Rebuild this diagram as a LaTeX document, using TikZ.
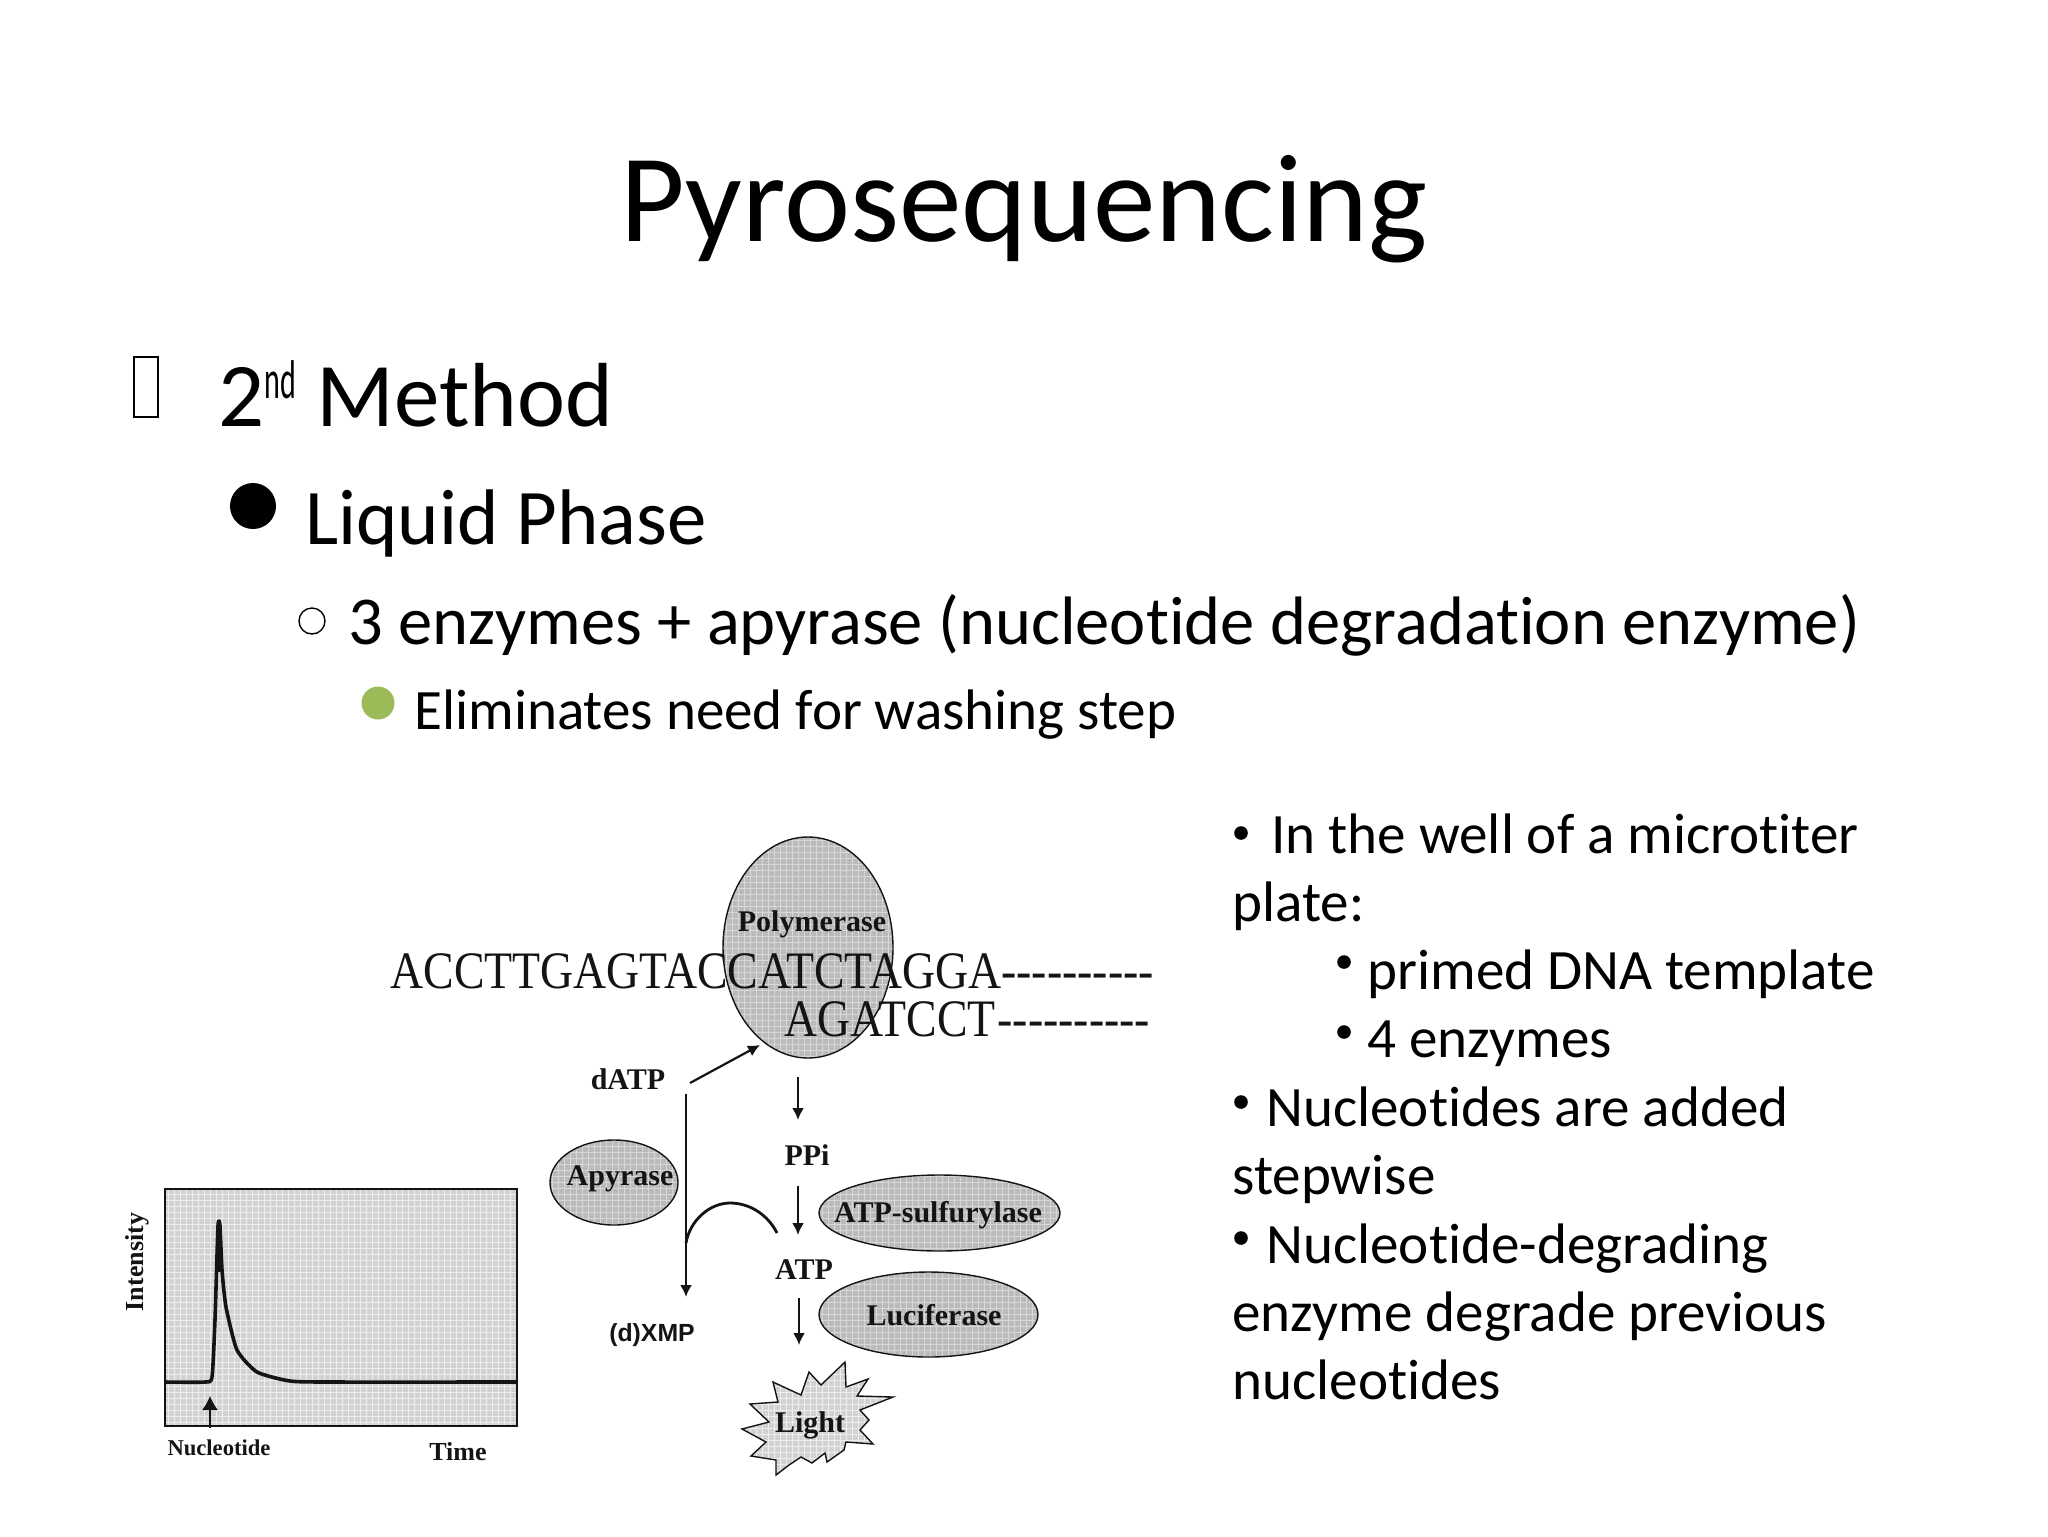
\documentclass[tikz,border=0pt]{standalone}
\usepackage{fontspec}
\setmainfont[RawFeature={-liga;-clig;-calt;-dlig}]{Carlito}
\newfontfamily\figserif{Liberation Serif}
\newfontfamily\figsans{Liberation Sans}
\usetikzlibrary{arrows.meta,shapes.geometric,patterns.meta}
\definecolor{slideink}{HTML}{000000}
\definecolor{figink}{HTML}{141414}
\definecolor{figfill}{HTML}{BABABA}
\definecolor{figmesh}{HTML}{D8D8D8}
\definecolor{plotfill}{HTML}{D2D2D2}
\definecolor{plotmesh}{HTML}{EEEEEE}
\definecolor{slidegreen}{HTML}{9BBB59}
\tikzset{
  slidetext/.style={anchor=base west,inner sep=0pt,text=slideink},
  bulletdot/.style={circle,fill=slideink,inner sep=0pt},
  meshfill/.style 2 args={preaction={fill=#1},
    preaction={pattern={Lines[angle=0,distance=3pt,line width=0.3pt]},pattern color=#2},
    preaction={pattern={Lines[angle=90,distance=3pt,line width=0.3pt]},pattern color=#2}},
  enzymeshape/.style={ellipse,draw=figink,line width=0.7pt,inner sep=0pt,meshfill={figfill}{figmesh}},
  figlabel/.style={inner sep=0pt,text=figink,font=\figserif\fontsize{15}{15}\selectfont\bfseries},
  dnatext/.style={anchor=base west,inner sep=0pt,text=figink,yscale=1.15,transform shape,
    font=\figserif\fontsize{22.9}{22.9}\selectfont},
  flowarrow/.style={draw=figink,line width=1.1pt,-{Latex[length=6pt,width=6pt]}},
}
\begin{document}
\begin{tikzpicture}[x=0.5pt,y=-0.5pt]
  \useasboundingbox (0,0) rectangle (2048,1536);
  \node[inner sep=0pt,text=slideink,font=\fontsize{62.6}{62.6}\selectfont,anchor=base] (title) at (1024,241) {Pyrosequencing};
  % bullet list
  \node[draw=slideink,line width=0.6pt,inner sep=0pt,minimum width=12pt,minimum height=30pt] (missing) at (146,387) {};
  \node[slidetext,font=\fontsize{45.5}{45.5}\selectfont] (method) at (218,426) {2\raisebox{14pt}{\scalebox{0.33}[0.6]{nd}} Method};
  \node[bulletdot,minimum size=23pt] (dotone) at (253,506) {};
  \node[slidetext,font=\fontsize{39.4}{39.4}\selectfont] (liquid) at (305,544) {Liquid Phase};
  \node[circle,draw=slideink,line width=0.7pt,inner sep=0pt,minimum size=13pt] (dottwo) at (312,621) {};
  \node[slidetext,font=\fontsize{34.27}{34.27}\selectfont] (apyrase) at (348,644) {3 enzymes + apyrase (nucleotide degradation enzyme)};
  \node[circle,fill=slidegreen,inner sep=0pt,minimum size=16.5pt] (dotthree) at (378,703) {};
  \node[slidetext,font=\fontsize{28.55}{28.55}\selectfont] (elim) at (414,729) {Eliminates need for washing step};
  % notes on the right
  \foreach \i/\x/\y/\t in {1/1271/853/In the well of a microtiter,2/1232/921/plate:,3/1367/989/primed DNA template,
    4/1367/1057/4 enzymes,5/1266/1126/Nucleotides are added,6/1232/1194/stepwise,7/1266/1263/Nucleotide-degrading,
    8/1232/1331/enzyme degrade previous,9/1232/1399/nucleotides}
    {\node[slidetext,font=\fontsize{28.55}{28.55}\selectfont] (note\i) at (\x,\y) {\t};}
  \foreach \i/\x/\y in {1/1241/833,2/1344/962,3/1344/1032,4/1241/1102,5/1241/1238}
    {\node[bulletdot,minimum size=6.8pt] (notedot\i) at (\x,\y) {};}
  % intensity plot
  \draw[draw=figink,line width=1.1pt,meshfill={plotfill}{plotmesh}] (165,1189) rectangle (517,1426);
  \draw[draw=figink,line width=1.8pt,line join=round] plot[smooth,tension=0.35] coordinates
    {(165,1382) (205,1382) (212,1377) (215,1320) (218,1226) (220,1226) (222,1270) (226,1307)
     (237,1350) (257,1372) (290,1381) (330,1382) (517,1382)};
  \draw[draw=figink,line width=2.8pt] (219,1230) -- (219,1272);
  \node[inner sep=0pt,text=figink,font=\figserif\fontsize{11.3}{11.3}\selectfont\bfseries] (nucleotide) at (219,1448) {Nucleotide};
  \node[inner sep=0pt,text=figink,font=\figserif\fontsize{13}{13}\selectfont\bfseries] (time) at (458,1452) {Time};
  \node[inner sep=0pt,text=figink,rotate=90,font=\figserif\fontsize{13}{13}\selectfont\bfseries] (intensity) at (137,1262) {Intensity};
  \coordinate (pulsefoot) at (210,1428);
  \coordinate (pulsetip) at (210,1396);
  \draw[flowarrow,line width=0.7pt,-{Latex[length=7pt,width=8pt]}] (pulsefoot) -- (pulsetip);
  % enzymes
  \foreach \n/\x/\y/\w/\h in {pol/808/947.5/85/110.5,apy/614/1182.5/64/42.5,sulf/939.5/1213/120.5/38,luci/928.5/1314.5/109.5/42.5}
    {\node[enzymeshape,minimum width=\w pt,minimum height=\h pt] (\n) at (\x,\y) {};}
  \draw[draw=figink,line width=0.7pt,meshfill={plotfill}{plotmesh}]
    (845,1362) -- (846,1387) -- (868,1379) -- (857,1396) -- (893,1397) -- (860,1410) -- (869,1420)
    -- (860,1430) -- (873,1444) -- (846,1442) -- (844,1450) -- (827,1462) -- (825,1453) -- (812,1463)
    -- (801,1457) -- (789,1465) -- (776,1475) -- (776,1460) -- (751,1456) -- (766,1442) -- (742,1429)
    -- (769,1422) -- (750,1404) -- (778,1402) -- (773,1382) -- (801,1395) -- (809,1372) -- (821,1385) -- cycle;
  \foreach \n/\x/\y/\t in {pollabel/812/924/Polymerase,apylabel/620/1179/Apyrase,sulflabel/938/1215/ATP-sulfurylase,
    lucilabel/934/1315/Luciferase,light/810/1425/Light,datp/628/1079/dATP,ppi/807/1155/PPi,atp/804/1270/ATP}
    {\node[figlabel] (\n) at (\x,\y) {\t};}
  \node[inner sep=0pt,text=figink,font=\figsans\fontsize{12.4}{12.4}\selectfont\bfseries] (xmp) at (652,1335) {(d)XMP};
  \node[dnatext] (templatestrand) at (390,988) {ACCTTGAGTACCATCTAGGA----------};
  \node[dnatext] (primerstrand) at (784,1036) {AGATCCT\kern1pt----------};
  % arrows
  \foreach \n/\x/\y in {datpout/690/1083,polin/760/1045,xmpstart/686/1094,xmpend/686/1297,curvefoot/686/1243,curveend/777/1233,
    ppistart/798/1077,ppiend/798/1120,atpstart/798/1186,atpend/798/1235,lightstart/799/1298,lightend/799/1345}
    {\coordinate (\n) at (\x,\y);}
  \draw[flowarrow] (datpout) -- (polin);
  \draw[flowarrow] (xmpstart) -- (xmpend);
  \draw[flowarrow] (ppistart) -- (ppiend);
  \draw[flowarrow] (atpstart) -- (atpend);
  \draw[flowarrow] (lightstart) -- (lightend);
  \draw[draw=figink,line width=1.4pt] (curvefoot) .. controls (690,1220) and (710,1203) .. (730,1203)
    .. controls (750,1203) and (768,1215) .. (curveend);
\end{tikzpicture}
\end{document}
